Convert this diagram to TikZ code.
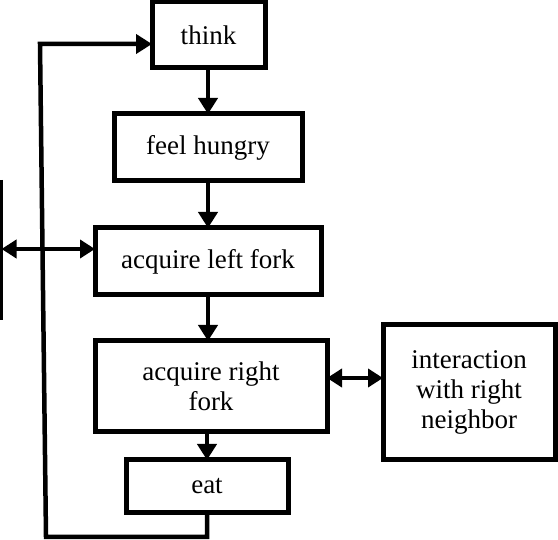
\documentclass[tikz,border=0pt]{standalone}
\usepackage{fontspec}
\setmainfont{Liberation Serif}
\usetikzlibrary{arrows.meta}
\begin{document}
\begin{tikzpicture}[x=1pt,y=-1pt,
  box/.style={draw=black,line width=5pt,inner sep=0pt,outer sep=0pt,align=center,
    font=\fontsize{27}{30}\selectfont},
  conn/.style={line width=4.5pt,line join=miter,-{Triangle[length=16pt,width=19pt]}},
  dconn/.style={line width=4.5pt,{Triangle[length=15pt,width=18pt]}-{Triangle[length=15pt,width=18pt]}}]
\useasboundingbox (0,0) rectangle (558,540);
\node[box,minimum width=113pt,minimum height=66pt] (think) at (208.5,35) {think};
\node[box,minimum width=188pt,minimum height=67pt] (feel) at (208,147.5) {feel hungry};
\node[box,minimum width=226pt,minimum height=67pt] (lfork) at (208,261.5) {acquire left fork};
\node[box,minimum width=232pt,minimum height=91pt] (rfork) at (211,386.5) {acquire right\\fork};
\node[box,minimum width=162pt,minimum height=53pt] (eat) at (207,486.5) {eat};
\node[box,minimum width=172pt,minimum height=135pt] (inter) at (469,392.5) {interaction\\with right\\neighbor};
% vertical arrows
\draw[conn] (208,68) -- (feel.north -| 208,0);
\draw[conn] (208,181) -- (lfork.north -| 208,0);
\draw[conn] (208,295) -- (rfork.north -| 208,0);
\draw[conn] (207,432) -- (eat.north -| 207,0);
% left neighbour bar and double arrow
\coordinate (bartop) at (1.5,180);
\coordinate (barbot) at (1.5,320);
\draw[line width=3.5pt] (bartop) -- (barbot);
\coordinate (lbar) at (1.5,249);
\draw[dconn] (lbar) -- (lfork.west |- lbar);
% right double arrow
\coordinate (rr) at (327,378);
\draw[dconn] (rfork.east |- rr) -- (inter.west |- rr);
% loop back
\coordinate (lb1) at (207,537);
\coordinate (lb2) at (46,537);
\coordinate (lb3) at (40,44);
\draw[conn] (eat.south) -- (lb1) -- (lb2) -- (lb3) -- (think.west |- lb3);
\end{tikzpicture}
\end{document}
